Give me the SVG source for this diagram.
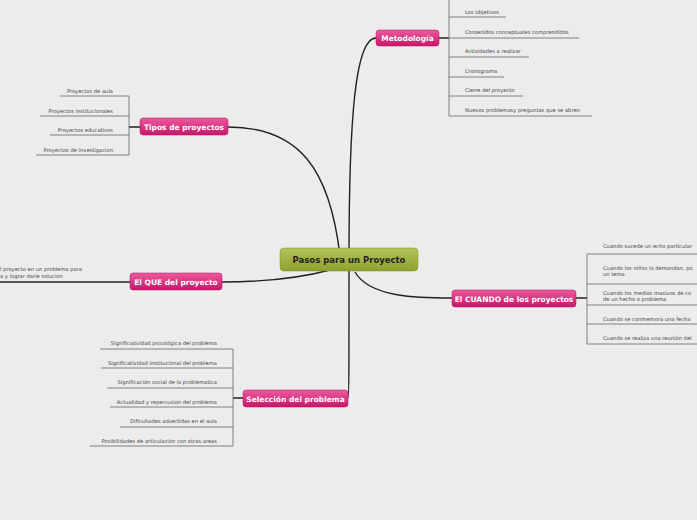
<svg xmlns="http://www.w3.org/2000/svg" width="697" height="520" viewBox="0 0 697 520">
<defs>
<linearGradient id="pk" x1="0" y1="0" x2="0" y2="1"><stop offset="0" stop-color="#ee5a9c"/><stop offset="1" stop-color="#c8166a"/></linearGradient>
<linearGradient id="gr" x1="0" y1="0" x2="0" y2="1"><stop offset="0" stop-color="#b4c45a"/><stop offset="1" stop-color="#8fa032"/></linearGradient>
</defs>
<style>
.n{fill:url(#pk);stroke:#b01060;stroke-width:0.5}
.nt{font-family:"DejaVu Sans",sans-serif;font-size:7.5px;font-weight:bold;fill:#fff;text-anchor:middle}
.l{font-family:"DejaVu Sans",sans-serif;font-size:5.2px;fill:#444}
.r{text-anchor:end}
.c{fill:none;stroke:#222;stroke-width:1.4}
.b{fill:none;stroke:#666;stroke-width:0.8}
</style>
<rect width="697" height="520" fill="#ececec"/>
<g id="connectors">
<path class="c" d="M349 260 C349 120 355 38 376 38"/>
<path class="c" d="M340 256 C330 170 300 127 228 127"/>
<path class="c" d="M330 270 C300 278 260 282 222 282"/>
<path class="c" d="M349 270 C349 360 349 398 348 398"/>
<path class="c" d="M355 272 C370 298 420 298 452 298"/>
<path class="c" d="M439 38 H449 M129 127 H140 M233 398 H243 M576 298 H587 M0 282 H130"/>
<path class="b" d="M449 0 V116 M449 17 H506 M449 38 H579 M449 57 H529 M449 77 H504 M449 96 H523 M449 116 H592"/>
<path class="b" d="M129 96 V155 M129 96 H60 M129 116 H40 M129 135 H50 M129 155 H36"/>
<path class="b" d="M233 349 V446 M233 349 H100 M233 368 H101 M233 388 H107 M233 407 H110 M233 427 H120 M233 446 H90"/>
<path class="b" d="M587 254 V344 M587 254 H697 M587 284 H697 M587 305 H697 M587 324 H697 M587 344 H697"/>
</g>
<g id="main"><rect x="280" y="248" width="138" height="23" rx="4" fill="url(#gr)" stroke="#7d8c2a" stroke-width="0.5"/><text x="349" y="263" text-anchor="middle" font-family="DejaVu Sans,sans-serif" font-size="8.5" font-weight="bold" fill="#222">Pasos para un Proyecto</text></g>
<g id="metodologia"><rect class="n" x="376" y="30" width="63" height="16" rx="3"/><text class="nt" x="407.5" y="41">Metodología</text>
<text class="l" x="465" y="14">Los objetivos</text><text class="l" x="465" y="34">Contenidos conceptuales comprendidos</text><text class="l" x="465" y="53">Actividades a realizar</text><text class="l" x="465" y="73">Cronograma</text><text class="l" x="465" y="92">Cierre del proyecto</text><text class="l" x="465" y="112">Nuevos problemasy preguntas que se abren</text></g>
<g id="tipos"><rect class="n" x="140" y="118" width="88" height="17" rx="3"/><text class="nt" x="184" y="129.5">Tipos de proyectos</text>
<text class="l r" x="113" y="93">Proyectos de aula</text><text class="l r" x="113" y="113">Proyectos institucionales</text><text class="l r" x="113" y="132">Proyectos educativos</text><text class="l r" x="113" y="152">Proyectos de investigacion</text></g>
<g id="que"><rect class="n" x="130" y="273" width="92" height="17" rx="3"/><text class="nt" x="176" y="284.5">El QUE del proyecto</text>
<text class="l" x="0" y="271">l proyecto en un problema para</text><text class="l" x="0" y="278">a y lograr darle solucion</text></g>
<g id="seleccion"><rect class="n" x="243" y="390" width="105" height="17" rx="3"/><text class="nt" x="295.5" y="401.5">Selección del problema</text>
<text class="l r" x="217" y="345">Significatividad psicológica del problema</text><text class="l r" x="217" y="365">Significatividad institucional del problema</text><text class="l r" x="217" y="384">Significación social de la problematica</text><text class="l r" x="217" y="404">Actualidad y repercusion del problema</text><text class="l r" x="217" y="423">Dificultades advertidas en el aula</text><text class="l r" x="217" y="443">Posibilidades de articulación con otras areas</text></g>
<g id="cuando"><rect class="n" x="452" y="290" width="124" height="17" rx="3"/><text class="nt" x="514" y="301.5">El CUANDO de los proyectos</text>
<text class="l" x="603" y="248">Cuando sucede un echo particular</text><text class="l" x="603" y="270">Cuando los niños lo demandan, po</text><text class="l" x="603" y="276">un tema</text><text class="l" x="603" y="295">Cuando los medios masivos de co</text><text class="l" x="603" y="301">de un hecho o problema</text><text class="l" x="603" y="321">Cuando se conmemora una fecha</text><text class="l" x="603" y="340">Cuando se realiza una reunión del</text></g>
</svg>
